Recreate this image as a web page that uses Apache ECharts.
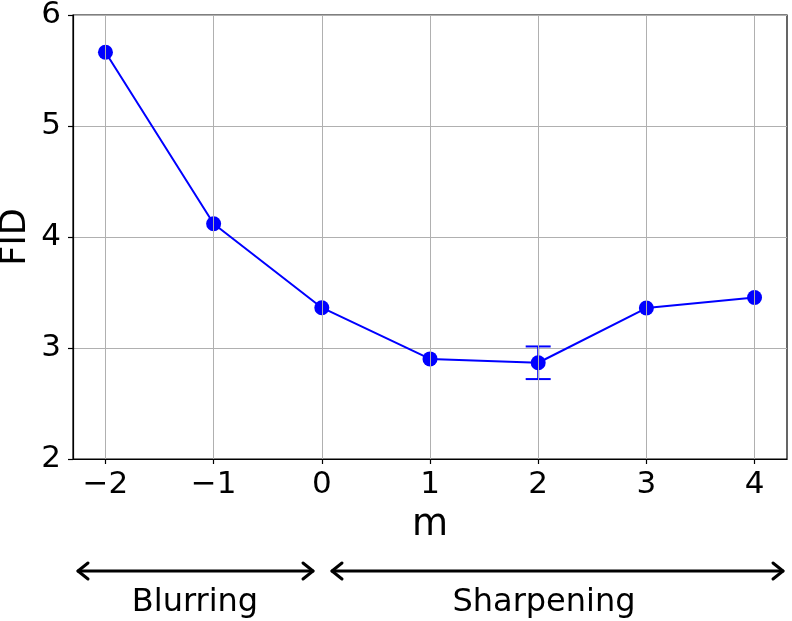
<!DOCTYPE html>
<html>
<head>
<meta charset="utf-8">
<script src="https://cdn.jsdelivr.net/npm/echarts@6/dist/echarts.min.js"></script>
<style>html,body{margin:0;padding:0;background:#fff}#c{width:792px;height:621px}</style>
</head>
<body>
<div id="c"></div>
<script>
const mValues = [-2, -1, 0, 1, 2, 3, 4];
const fidValues = [5.665, 4.12, 3.363, 2.902, 2.867, 3.36, 3.455];
const fidErrors = [0, 0, 0, 0, 0.147, 0, 0];
const xTicks = [-2, -1, 0, 1, 2, 3, 4];
const yTicks = [2, 3, 4, 5, 6];
const regionLabels = ['Blurring', 'Sharpening'];

const FONT = 'DejaVu Sans';
const chart = echarts.init(document.getElementById('c'), null, {renderer: 'canvas'});

const lineData = mValues.map((m, i) => [m, fidValues[i]]);
const errData = mValues.map((m, i) => [m, fidValues[i] - fidErrors[i], fidValues[i] + fidErrors[i]]).filter((d, i) => fidErrors[i] > 0);

function fmt(v) { return v < 0 ? '\u2212' + Math.abs(v) : String(v); }

const option = {
  animation: false,
  backgroundColor: '#fff',
  grid: {left: 73, right: 5, top: 15, bottom: 162, containLabel: false, outerBoundsMode: 'none', show: true, borderColor: '#000', borderWidth: 1.2, backgroundColor: 'transparent'},
  xAxis: {
    type: 'value', min: -2.3, max: 4.3,
    name: 'm', nameLocation: 'middle', nameGap: 48, nameMoveOverlap: false,
    nameTextStyle: {fontFamily: FONT, fontSize: 37, color: '#000'},
    axisLine: {show: true, onZero: false, lineStyle: {color: '#000', width: 1.2}},
    axisTick: {show: true, customValues: xTicks, length: 5, inside: false, lineStyle: {color: '#000', width: 1.2}},
    axisLabel: {customValues: xTicks, formatter: fmt, fontFamily: FONT, fontSize: 31, color: '#000', margin: 10},
    splitLine: {show: false}
  },
  yAxis: {
    type: 'value', min: 2, max: 6, interval: 1,
    name: 'FID', nameLocation: 'middle', nameGap: 40, nameMoveOverlap: false,
    nameTextStyle: {fontFamily: FONT, fontSize: 35, color: '#000'},
    axisLine: {show: true, onZero: false, lineStyle: {color: '#000', width: 1.2}},
    axisTick: {show: true, length: 5, lineStyle: {color: '#000', width: 1.2}},
    axisLabel: {fontFamily: FONT, fontSize: 31, color: '#000', margin: 12, formatter: fmt},
    splitLine: {show: true, lineStyle: {color: '#b0b0b0', width: 1}}
  },
  series: [
    {
      type: 'line', data: [], z: 1, silent: true,
      markLine: {
        silent: true, symbol: 'none', label: {show: false},
        lineStyle: {color: '#b0b0b0', width: 1, type: 'solid'},
        data: xTicks.map(v => ({xAxis: v}))
      }
    },
    {
      type: 'line', data: lineData, z: 3,
      symbol: 'circle', symbolSize: 15,
      lineStyle: {color: '#0000ff', width: 2},
      itemStyle: {color: '#0000ff'}
    },
    {
      type: 'custom', z: 4, data: errData,
      renderItem: function (params, api) {
        const x = api.value(0);
        const lo = api.coord([x, api.value(1)]);
        const hi = api.coord([x, api.value(2)]);
        const hw = 12.5;
        const style = {stroke: '#0000ff', lineWidth: 2};
        return {type: 'group', children: [
          {type: 'line', shape: {x1: lo[0], y1: lo[1], x2: hi[0], y2: hi[1]}, style: style},
          {type: 'line', shape: {x1: lo[0] - hw, y1: lo[1], x2: lo[0] + hw, y2: lo[1]}, style: style},
          {type: 'line', shape: {x1: hi[0] - hw, y1: hi[1], x2: hi[0] + hw, y2: hi[1]}, style: style}
        ]};
      }
    }
  ]
};
chart.setOption(option);

// annotation arrows and labels below the axis
function arrow(x1, x2, y) {
  const s = {stroke: '#000', lineWidth: 3, lineCap: 'round', lineJoin: 'round'};
  return [
    {type: 'line', shape: {x1: x1, y1: y, x2: x2, y2: y}, style: s},
    {type: 'polyline', shape: {points: [[x1 + 10, y - 8], [x1, y], [x1 + 10, y + 8]]}, style: s},
    {type: 'polyline', shape: {points: [[x2 - 10, y - 8], [x2, y], [x2 - 10, y + 8]]}, style: s}
  ];
}
const ay = 571;
chart.setOption({
  graphic: [
    ...arrow(78, 313, ay),
    ...arrow(332, 783, ay),
    {type: 'text', x: 195, y: 603, style: {text: regionLabels[0], font: '32px "DejaVu Sans"', fill: '#000', align: 'center', verticalAlign: 'middle'}},
    {type: 'text', x: 544, y: 603, style: {text: regionLabels[1], font: '32px "DejaVu Sans"', fill: '#000', align: 'center', verticalAlign: 'middle'}}
  ]
});
</script>
</body>
</html>
